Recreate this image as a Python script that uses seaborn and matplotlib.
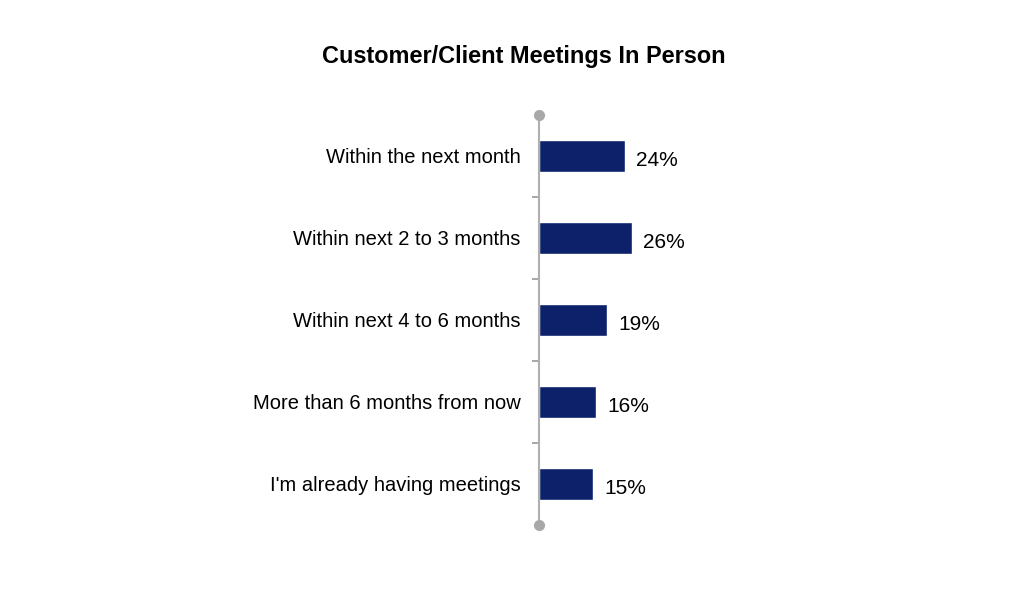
import pandas as pd
import seaborn as sns
import matplotlib.pyplot as plt
from matplotlib.ticker import FixedLocator

# data
categories = ["Within the next month", "Within next 2 to 3 months",
              "Within next 4 to 6 months", "More than 6 months from now",
              "I'm already having meetings"]
shares = [24, 26, 19, 16, 15]

df = pd.DataFrame({"when": categories, "share": shares})

sns.set_style("white")
plt.rcParams['font.family'] = ['Liberation Sans', 'DejaVu Sans']
plt.rcParams['text.color'] = 'black'
plt.rcParams['ytick.labelcolor'] = 'black'

fig = plt.figure(figsize=(10.24, 5.97), dpi=100)
ax = fig.add_axes([0.5264, 0.1206, 0.35, 0.6868])

sns.barplot(data=df, x="share", y="when", color="#0C2169", width=0.39,
            saturation=1, ax=ax)

ax.set_xlim(0, 100)
ax.set_ylim(4.5, -0.5)

#Value labels at the end of every bar
for i, v in enumerate(shares):
    ax.text(v + 3.1, i + 0.03, f"{v}%", va="center_baseline", ha="left",
            fontsize=15, color="black")

for s in ["top", "right", "bottom"]:
    ax.spines[s].set_visible(False)
ax.spines["left"].set_color("#b0b0b0")
ax.spines["left"].set_linewidth(1.5)

#Dots at the two ends of the axis line
ax.plot([0, 0], [-0.5, 4.5], "o", color="#a8a8a8", markersize=7,
        clip_on=False, zorder=5)

ax.set_xticks([])
ax.set_xlabel("")
ax.set_ylabel("")

#Tick marks between categories, labels at the middle
ax.yaxis.set_minor_locator(FixedLocator([0.5, 1.5, 2.5, 3.5]))
ax.tick_params(axis="y", which="minor", left=True, length=5, width=1.3,
               color="#a0a0a0")
ax.tick_params(axis="y", which="major", left=False, pad=10, labelsize=14.5,
               labelcolor="black")

fig.suptitle("Customer/Client Meetings In Person", x=0.512, y=0.925,
             fontsize=16.9, fontweight="bold", color="black")

fig.savefig("out.png", dpi=100, facecolor="white")
